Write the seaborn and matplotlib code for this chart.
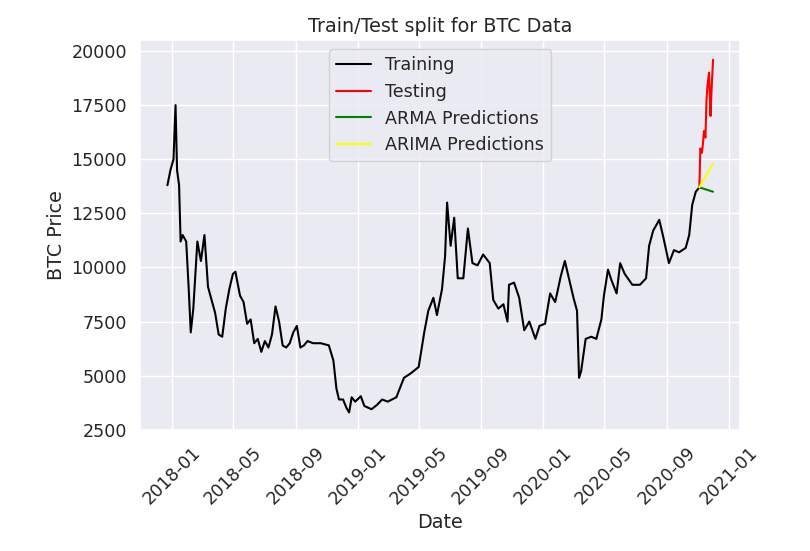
import pandas as pd
import matplotlib
matplotlib.use("Agg")
import matplotlib.pyplot as plt
import seaborn as sns

train_dates = ["2017-12-22","2017-12-28","2018-01-03","2018-01-07","2018-01-10","2018-01-14","2018-01-17","2018-01-21","2018-01-28","2018-02-02","2018-02-06","2018-02-11","2018-02-19","2018-02-26","2018-03-05","2018-03-12","2018-03-19","2018-03-26","2018-04-02","2018-04-09","2018-04-16","2018-04-23","2018-04-30","2018-05-05","2018-05-14","2018-05-21","2018-05-28","2018-06-04","2018-06-11","2018-06-18","2018-06-25","2018-07-02","2018-07-09","2018-07-16","2018-07-23","2018-07-30","2018-08-06","2018-08-13","2018-08-20","2018-08-27","2018-09-03","2018-09-10","2018-09-17","2018-09-24","2018-10-05","2018-10-20","2018-11-05","2018-11-14","2018-11-20","2018-11-25","2018-12-03","2018-12-10","2018-12-15","2018-12-20","2018-12-27","2019-01-07","2019-01-14","2019-01-28","2019-02-08","2019-02-18","2019-03-01","2019-03-18","2019-04-02","2019-04-15","2019-05-01","2019-05-12","2019-05-20","2019-05-30","2019-06-06","2019-06-16","2019-06-22","2019-06-26","2019-07-03","2019-07-10","2019-07-17","2019-07-28","2019-08-06","2019-08-15","2019-08-25","2019-09-05","2019-09-18","2019-09-25","2019-10-05","2019-10-15","2019-10-23","2019-10-26","2019-11-05","2019-11-15","2019-11-25","2019-12-05","2019-12-17","2019-12-25","2020-01-05","2020-01-15","2020-01-25","2020-02-05","2020-02-13","2020-02-20","2020-03-01","2020-03-08","2020-03-12","2020-03-16","2020-03-25","2020-04-05","2020-04-15","2020-04-25","2020-04-30","2020-05-08","2020-05-15","2020-05-25","2020-06-01","2020-06-10","2020-06-25","2020-07-10","2020-07-22","2020-07-28","2020-08-05","2020-08-17","2020-08-25","2020-09-05","2020-09-15","2020-09-25","2020-10-08","2020-10-15","2020-10-21","2020-10-28","2020-11-04"]
train_values = [13800,14500,15000,17500,14500,13800,11200,11500,11200,9000,7000,8100,11200,10300,11500,9100,8500,7900,6900,6800,8100,9000,9700,9800,8700,8400,7400,7600,6500,6700,6100,6600,6300,6900,8200,7500,6400,6300,6500,7000,7300,6300,6400,6600,6500,6500,6400,5700,4400,3900,3900,3500,3300,4000,3800,4050,3600,3450,3650,3900,3800,4000,4900,5100,5400,7000,8000,8600,7800,9000,10500,13000,11000,12300,9500,9500,11800,10200,10100,10600,10200,8500,8100,8300,7500,9200,9300,8600,7100,7500,6700,7300,7400,8800,8400,9600,10300,9600,8600,8000,4900,5200,6700,6800,6700,7600,8700,9900,9400,8800,10200,9700,9200,9200,9500,11000,11700,12200,11400,10200,10800,10700,10900,11500,12900,13500,13700]
test_dates = ["2020-11-04","2020-11-06","2020-11-09","2020-11-11","2020-11-13","2020-11-16","2020-11-18","2020-11-20","2020-11-23","2020-11-26","2020-11-28","2020-12-01"]
test_values = [13700,15500,15300,15700,16300,16000,17700,18400,19000,17000,18200,19600]
pred_dates = ["2020-11-04","2020-12-01"]
arma_values = [13700,13500]
arima_values = [13700,14800]

sns.set_theme(style="darkgrid", font_scale=1.15)
fig, ax = plt.subplots(figsize=(8.1, 5.51), dpi=100)
sns.lineplot(x=pd.to_datetime(train_dates), y=train_values, color="black", label="Training", ax=ax)
sns.lineplot(x=pd.to_datetime(test_dates), y=test_values, color="red", label="Testing", ax=ax)
sns.lineplot(x=pd.to_datetime(pred_dates), y=arma_values, color="green", label="ARMA Predictions", ax=ax)
sns.lineplot(x=pd.to_datetime(pred_dates), y=arima_values, color="yellow", label="ARIMA Predictions", ax=ax)
ax.set_ylim(2500, 20500)
ax.set_yticks([2500,5000,7500,10000,12500,15000,17500,20000])
ax.set_title("Train/Test split for BTC Data")
ax.set_xlabel("Date")
ax.set_ylabel("BTC Price")
ax.legend(loc="upper center")
plt.setp(ax.get_xticklabels(), rotation=45)
fig.subplots_adjust(left=0.173, right=0.914, top=0.927, bottom=0.22)
fig.savefig("out.png")
